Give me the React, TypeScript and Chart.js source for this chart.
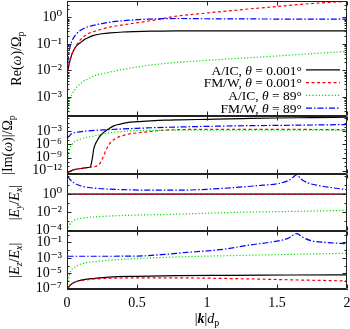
import React, { useEffect, useRef } from 'react';
import { Chart, registerables } from 'chart.js';
Chart.register(...registerables);

const FAMILY = '"Liberation Serif", "DejaVu Serif", serif';
const FS = 14;
const LEGEND_FS = 13.5;

// ---- x axis ----
const kTicks = [0, 0.5, 1, 1.5, 2];
const kTickLabels = ['0', '0.5', '1', '1.5', '2'];

// ---- panel 1: Re(omega)/Omega_p ----
const reTicks = [1e-3, 1e-2, 1e-1, 1];
const reRange = [1.9e-4, 4.1];
const reK = [0.005, 0.02, 0.036, 0.05, 0.071, 0.095, 0.12, 0.15, 0.19, 0.25, 0.31, 0.4, 0.48, 0.6, 0.78, 1.0, 1.25, 1.5, 1.75, 2.0];
const reAic001 = [0.0095, 0.022, 0.042, 0.06, 0.087, 0.11, 0.14, 0.17, 0.21, 0.24, 0.26, 0.28, 0.29, 0.3, 0.31, 0.31, 0.31, 0.31, 0.31, 0.31];
const reFmw001 = [0.0095, 0.022, 0.043, 0.062, 0.095, 0.14, 0.19, 0.24, 0.29, 0.36, 0.43, 0.52, 0.6, 0.75, 1.1, 1.45, 1.95, 2.55, 3.3, 4.0];
const reAic89 = [0.00029, 0.0008, 0.0013, 0.0017, 0.0024, 0.0031, 0.004, 0.0048, 0.0062, 0.0075, 0.0088, 0.011, 0.013, 0.016, 0.02, 0.024, 0.029, 0.035, 0.043, 0.052];
const reFmw89 = [0.02, 0.07, 0.13, 0.18, 0.25, 0.32, 0.38, 0.44, 0.5, 0.58, 0.66, 0.74, 0.8, 0.86, 0.9, 0.88, 0.87, 0.86, 0.86, 0.86];

// ---- panel 2: |Im(omega)|/Omega_p ----
const imTicks = [1e-12, 1e-9, 1e-6, 1e-3];
const imRange = [2e-13, 2.9];
const imKAic001 = [0.005, 0.03, 0.06, 0.1, 0.14, 0.165, 0.175, 0.185, 0.19, 0.2, 0.214, 0.23, 0.26, 0.3, 0.33, 0.38, 0.43, 0.5, 0.6, 0.7, 0.8, 1.0, 1.25, 1.5, 1.75, 2.0];
const imAic001 = [4e-13, 1e-12, 2e-12, 3.2e-12, 5e-12, 6.3e-12, 6.3e-11, 5e-9, 6.3e-8, 8e-7, 6.3e-6, 5e-5, 5e-4, 4e-3, 0.016, 0.045, 0.1, 0.16, 0.25, 0.35, 0.42, 0.56, 0.8, 1.12, 1.4, 1.8];
const imKFmw001 = [0.005, 0.03, 0.06, 0.1, 0.14, 0.165, 0.19, 0.214, 0.238, 0.26, 0.286, 0.31, 0.357, 0.43, 0.55, 0.67, 0.8, 1.0, 1.5, 2.0];
const imFmw001 = [4e-13, 1e-12, 2e-12, 3.2e-12, 5e-12, 6.3e-12, 8e-12, 1.3e-11, 6.3e-11, 2e-9, 1.6e-7, 2.5e-6, 3.2e-5, 2e-4, 6.3e-4, 1.6e-3, 2.5e-3, 2.8e-3, 2.8e-3, 2.5e-3];
const imKAic89 = [0.005, 0.012, 0.036, 0.095, 0.19, 0.31, 0.55, 0.8, 1.0, 1.5, 2.0];
const imAic89 = [3.2e-10, 1.3e-8, 1e-6, 1.6e-5, 8e-5, 5e-4, 1.6e-3, 1.8e-3, 1.8e-3, 1.8e-3, 2e-3];
const imKFmw89 = [0.005, 0.03, 0.07, 0.15, 0.3, 0.5, 0.8, 1.2, 1.6, 2.0];
const imFmw89 = [3.2e-5, 2.5e-4, 6.3e-4, 1.3e-3, 2.5e-3, 5e-3, 0.01, 0.018, 0.025, 0.035];

// ---- panel 3: |E_y/E_x| ----
const eyTicks = [1e-4, 1e-2, 1];
const eyRange = [8e-5, 178];
const eyKFlat = [0.005, 0.5, 1.0, 1.5, 2.0];
const eyAic001 = [1, 1, 1, 1, 1];
const eyFmw001 = [1, 1, 1, 1, 1];
const eyKAic89 = [0.005, 0.02, 0.05, 0.1, 0.2, 0.4, 0.78, 1.2, 1.6, 2.0];
const eyAic89 = [8.9e-5, 4.5e-4, 1.3e-3, 2.2e-3, 3.2e-3, 4.5e-3, 6.3e-3, 0.01, 0.0126, 0.0166];
const eyKFmw89 = [0.005, 0.02, 0.05, 0.1, 0.17, 0.25, 0.4, 0.6, 0.8, 1.0, 1.25, 1.4, 1.5, 1.58, 1.61, 1.64, 1.67, 1.72, 1.8, 1.9, 2.0];
const eyFmw89 = [100, 45, 18, 8, 5.2, 4, 3.2, 2.8, 2.8, 3.5, 6.3, 10, 14, 32, 63, 140, 50, 18, 9, 5, 3.2];

// ---- panel 4: |E_z/E_x| ----
const ezTicks = [1e-7, 1e-5, 1e-3, 1e-1];
const ezRange = [9e-8, 2.7];
const ezK = [0.005, 0.02, 0.05, 0.1, 0.2, 0.3, 0.5, 0.78, 1.2, 1.6, 2.0];
const ezAic001 = [1e-7, 2.5e-7, 6.3e-7, 1.3e-6, 2.2e-6, 3.2e-6, 4e-6, 5e-6, 5.4e-6, 5.9e-6, 6.3e-6];
const ezFmw001 = [1e-7, 2.5e-7, 6.3e-7, 1.1e-6, 1.8e-6, 2.2e-6, 2.5e-6, 2.5e-6, 2e-6, 1.4e-6, 1e-6];
const ezAic89 = [3.2e-7, 1e-5, 5e-5, 1.6e-4, 3.2e-4, 5e-4, 8e-4, 1.3e-3, 2e-3, 2.8e-3, 4e-3];
const ezKFmw89 = [0.005, 0.2, 0.5, 0.7, 0.85, 1.0, 1.13, 1.3, 1.49, 1.58, 1.61, 1.643, 1.68, 1.75, 1.85, 2.0];
const ezFmw89 = [1.6e-3, 1.6e-3, 1.7e-3, 2.8e-3, 5e-3, 8e-3, 0.014, 0.045, 0.14, 0.35, 0.8, 1.4, 0.5, 0.16, 0.1, 0.068];

// ---- legend ----
const legendModes = ['A/IC', 'FM/W', 'A/IC', 'FM/W'];
const legendAngles = ['0.001°', '0.001°', '89°', '89°'];

const STYLES = [
  { color: '#000000', dash: [] as number[], order: 4 },
  { color: '#ff0000', dash: [3, 2.5], order: 3 },
  { color: '#00dd00', dash: [1.2, 2], order: 2 },
  { color: '#0000ff', dash: [6, 2, 1.5, 2], order: 1 },
];

type Seg = { t: string; it?: boolean; bold?: boolean; sub?: boolean };

function drawRich(ctx: CanvasRenderingContext2D, segs: Seg[], x: number, y: number, size: number, rotate: boolean, align: 'center' | 'right') {
  ctx.save();
  ctx.translate(x, y);
  if (rotate) ctx.rotate(-Math.PI / 2);
  const fontOf = (s: Seg) => `${s.it ? 'italic ' : ''}${s.bold ? 'bold ' : ''}${s.sub ? Math.round(size * 0.7) : size}px ${FAMILY}`;
  let w = 0;
  for (const s of segs) {
    ctx.font = fontOf(s);
    w += ctx.measureText(s.t).width;
  }
  let cx = align === 'center' ? -w / 2 : -w;
  ctx.textBaseline = 'alphabetic';
  ctx.textAlign = 'left';
  ctx.fillStyle = '#000';
  const base = size * 0.35;
  for (const s of segs) {
    ctx.font = fontOf(s);
    ctx.fillText(s.t, cx, base + (s.sub ? size * 0.22 : 0));
    cx += ctx.measureText(s.t).width;
  }
  ctx.restore();
}

const SUP: Record<string, string> = { '0': '⁰', '1': '¹', '2': '²', '3': '³', '4': '⁴', '5': '⁵', '6': '⁶', '7': '⁷', '8': '⁸', '9': '⁹', '-': '⁻' };
const powLabel = (v: number) => '10' + String(Math.round(Math.log10(v))).split('').map((c) => SUP[c] || c).join('');

const panelIds = ['yRe', 'yIm', 'yEy', 'yEz'];
const panelTitles: Seg[][] = [
  [{ t: 'Re(' }, { t: 'ω', it: true }, { t: ')/Ω' }, { t: 'p', sub: true }],
  [{ t: '|Im(' }, { t: 'ω', it: true }, { t: ')|/Ω' }, { t: 'p', sub: true }],
  [{ t: '|' }, { t: 'E', it: true }, { t: 'y', it: true, sub: true }, { t: '/' }, { t: 'E', it: true }, { t: 'x', it: true, sub: true }, { t: '|' }],
  [{ t: '|' }, { t: 'E', it: true }, { t: 'z', it: true, sub: true }, { t: '/' }, { t: 'E', it: true }, { t: 'x', it: true, sub: true }, { t: '|' }],
];
const titleX = [16, 7, 14, 14];

const frameColor = '#222';

const decorPlugin = {
  id: 'decor',
  afterDatasetsDraw(chart: any) {
    const ctx: CanvasRenderingContext2D = chart.ctx;
    const { left, right } = chart.chartArea;
    const xs = chart.scales.x;
    ctx.save();
    ctx.strokeStyle = frameColor;
    ctx.lineWidth = 1;
    ctx.setLineDash([]);
    const L = Math.round(left) + 0.5;
    const R = Math.round(right) - 0.5;
    panelIds.forEach((id, pi) => {
      const s = chart.scales[id];
      const T = Math.round(s.top) + 0.5;
      const B = Math.round(s.bottom) - 0.5;
      ctx.beginPath();
      ctx.rect(L, T, R - L, B - T);
      ctx.stroke();
      const tick = (y: number, len: number) => {
        const yy = Math.round(y) + 0.5;
        ctx.beginPath();
        ctx.moveTo(L, yy); ctx.lineTo(L + len, yy);
        ctx.moveTo(R, yy); ctx.lineTo(R - len, yy);
        ctx.stroke();
      };
      const lo = Math.log10(s.min), hi = Math.log10(s.max);
      const majors = s.ticks.map((t: any) => t.value);
      for (let e = Math.floor(lo); e <= Math.ceil(hi); e++) {
        if (pi === 0) {
          for (let m = 1; m <= 9; m++) {
            const v = m * Math.pow(10, e);
            if (v < s.min || v > s.max) continue;
            const isMajor = majors.some((mv: number) => Math.abs(mv - v) / v < 1e-6);
            tick(s.getPixelForValue(v), isMajor ? 4 : 2);
          }
        } else {
          const v = Math.pow(10, e);
          if (v < s.min || v > s.max) continue;
          const isMajor = majors.some((mv: number) => Math.abs(mv - v) / v < 1e-6);
          tick(s.getPixelForValue(v), isMajor ? 4 : 2);
        }
      }
      for (const kv of kTicks) {
        const px = Math.round(xs.getPixelForValue(kv)) + 0.5;
        ctx.beginPath();
        ctx.moveTo(px, T); ctx.lineTo(px, T + 4);
        ctx.moveTo(px, B); ctx.lineTo(px, B - 4);
        ctx.stroke();
      }
    });
    ctx.restore();
  },
  afterDraw(chart: any) {
    const ctx: CanvasRenderingContext2D = chart.ctx;
    const { left, right } = chart.chartArea;
    panelIds.forEach((id, pi) => {
      const s = chart.scales[id];
      drawRich(ctx, panelTitles[pi], titleX[pi], (s.top + s.bottom) / 2, FS, true, 'center');
    });
    const xs = chart.scales.x;
    drawRich(ctx, [{ t: '|' }, { t: 'k', it: true, bold: true }, { t: '|' }, { t: 'd', it: true }, { t: 'p', sub: true }], (left + right) / 2, xs.bottom - 11, FS, false, 'center');
    // legend (panel 1)
    const s1 = chart.scales.yRe;
    legendModes.forEach((mode, i) => {
      const y = s1.bottom - 8 - (3 - i) * 12.8;
      const st = STYLES[i];
      ctx.save();
      ctx.strokeStyle = st.color;
      ctx.lineWidth = 1.2;
      ctx.setLineDash(st.dash);
      ctx.beginPath();
      ctx.moveTo(right - 41, y);
      ctx.lineTo(right - 7, y);
      ctx.stroke();
      ctx.restore();
      drawRich(ctx, [{ t: mode + ', ' }, { t: 'θ', it: true }, { t: ' = ' + legendAngles[i] }], right - 45, y, LEGEND_FS, false, 'right');
    });
  },
};

function series(label: string, ks: number[], vs: number[], si: number, yAxisID: string) {
  const st = STYLES[si];
  return {
    label,
    data: ks.map((k, i) => ({ x: k, y: vs[i] })),
    xAxisID: 'x',
    yAxisID,
    borderColor: st.color,
    borderDash: st.dash,
    borderWidth: 1.2,
    pointRadius: 0,
    fill: false,
    order: st.order,
    cubicInterpolationMode: 'monotone',
  };
}

function yAxis(range: number[], ticks: number[], stackWeight: number, weight: number) {
  return {
    type: 'logarithmic',
    position: 'left',
    stack: 'panels',
    stackWeight,
    weight,
    min: range[0],
    max: range[1],
    bounds: 'data',
    offset: false,
    grid: { display: false, drawTicks: false },
    border: { display: true, color: frameColor, width: 1 },
    title: { display: false },
    ticks: {
      autoSkip: false,
      color: '#000',
      padding: 5,
      font: { family: FAMILY, size: FS },
      callback: (v: number) => powLabel(v),
    },
    afterBuildTicks: (sc: any) => {
      sc.ticks = ticks.map((v) => ({ value: v }));
    },
    afterFit: (sc: any) => {
      sc.width = 67;
      sc.paddingTop = 0;
      sc.paddingBottom = 0;
    },
  };
}

export default function App() {
  const ref = useRef<HTMLCanvasElement | null>(null);
  useEffect(() => {
    if (!ref.current) return;
    const names = legendModes.map((m, i) => `${m}, θ = ${legendAngles[i]}`);
    const chart = new Chart(ref.current, {
      type: 'line',
      data: {
        datasets: [
          series(names[0], reK, reAic001, 0, 'yRe'),
          series(names[1], reK, reFmw001, 1, 'yRe'),
          series(names[2], reK, reAic89, 2, 'yRe'),
          series(names[3], reK, reFmw89, 3, 'yRe'),
          series(names[0], imKAic001, imAic001, 0, 'yIm'),
          series(names[1], imKFmw001, imFmw001, 1, 'yIm'),
          series(names[2], imKAic89, imAic89, 2, 'yIm'),
          series(names[3], imKFmw89, imFmw89, 3, 'yIm'),
          series(names[0], eyKFlat, eyAic001, 0, 'yEy'),
          series(names[1], eyKFlat, eyFmw001, 1, 'yEy'),
          series(names[2], eyKAic89, eyAic89, 2, 'yEy'),
          series(names[3], eyKFmw89, eyFmw89, 3, 'yEy'),
          series(names[0], ezK, ezAic001, 0, 'yEz'),
          series(names[1], ezK, ezFmw001, 1, 'yEz'),
          series(names[2], ezK, ezAic89, 2, 'yEz'),
          series(names[3], ezKFmw89, ezFmw89, 3, 'yEz'),
        ] as any,
      },
      options: {
        responsive: false,
        animation: false,
        devicePixelRatio: 1,
        layout: { padding: { left: 0, top: 1, right: 3, bottom: 0 } },
        plugins: { legend: { display: false }, tooltip: { enabled: false }, title: { display: false } },
        scales: {
          x: {
            type: 'linear',
            position: 'bottom',
            min: 0,
            max: 2,
            offset: false,
            grid: { display: false, drawTicks: false },
            border: { display: true, color: frameColor, width: 1 },
            ticks: {
              autoSkip: false,
              maxRotation: 0,
              color: '#000',
              padding: 6,
              font: { family: FAMILY, size: FS },
              callback: (v: number) => {
                const i = kTicks.indexOf(v);
                return i >= 0 ? kTickLabels[i] : '';
              },
            },
            afterBuildTicks: (sc: any) => {
              sc.ticks = kTicks.map((v) => ({ value: v }));
            },
            afterFit: (sc: any) => {
              sc.height = 40;
              sc.paddingLeft = 0;
              sc.paddingRight = 0;
            },
          },
          yEz: yAxis(ezRange, ezTicks, 1, 1),
          yEy: yAxis(eyRange, eyTicks, 1, 2),
          yIm: yAxis(imRange, imTicks, 1, 3),
          yRe: yAxis(reRange, reTicks, 2, 4),
        } as any,
      },
      plugins: [decorPlugin],
    });
    return () => chart.destroy();
  }, []);
  return (
    <div style={{ position: 'fixed', left: 0, top: 0, width: 350, height: 329, background: '#fff' }}>
      <canvas ref={ref} width={350} height={329} style={{ display: 'block' }} />
    </div>
  );
}
